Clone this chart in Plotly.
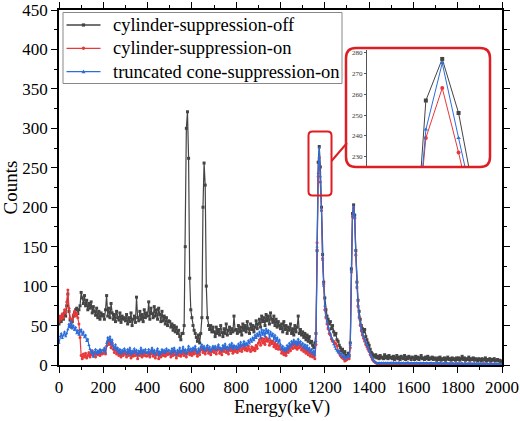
import plotly.graph_objects as go

# ---------------- data (5 keV bins, 0 ... 2000 keV) ----------------
energy = list(range(0, 2001, 5))

counts_off = (
    [52,58,55,62,58,66,62,75,90,68,57,48,55,62,66,70,72,65,70,75] +
    [92,85,78,88,75,82,70,78,72,80,66,74,68,63,72,60,68,58,66,62] +
    [64,58,70,88,62,72,60,78,66,58,64,55,68,60,57,66,54,62,58,60] +
    [56,64,52,60,55,66,50,58,62,54,86,60,56,68,58,64,55,70,60,66] +
    [62,80,58,72,65,60,74,62,70,58,72,64,55,68,56,62,52,60,50,56] +
    [55,48,52,44,50,42,48,40,44,36,32,40,40,50,150,300,321,262,110,70] +
    [60,50,44,40,35,30,38,28,40,60,200,256,228,100,60,50,45,50,42,48] +
    [42,36,48,40,45,38,50,41,36,46,40,52,38,44,48,40,46,42,62,44] +
    [45,40,50,42,48,38,52,44,50,42,55,46,40,52,45,50,42,48,56,46] +
    [52,58,48,62,55,60,50,64,56,62,52,66,58,54,62,50,58,48,55,50] +
    [46,52,42,55,45,50,40,48,44,52,40,46,38,50,42,48,62,40,45,38] +
    [42,35,40,32,38,30,36,28,30,25,22,28,40,145,257,277,251,200,140,105] +
    [85,70,62,58,52,55,46,50,42,38,40,32,30,25,22,18,20,15,17,12] +
    [12,15,12,28,122,192,203,190,145,105,82,68,58,50,46,42,45,36,32,28] +
    [25,20,16,14,12,10,13,9,11,8,12,9,10,8,13,9,11,8,12,9] +
    [10,8,11,7,9,12,8,10,7,11,9,8,12,7,10,8,11,9,7,10] +
    [9,7,11,8,10,7,9,12,8,9,7,10,8,11,7,9,8,10,7,9] +
    [8,6,9,7,10,6,8,7,9,6,8,10,7,8,6,9,7,8,6,9] +
    [7,9,6,8,11,7,9,6,8,7,10,6,8,7,9,6,8,7,5,8] +
    [7,5,8,6,7,9,5,7,6,8,5,7,6,8,5,6,7,5,6,4] +
    [5]
)

counts_cyl_on = (
    [55,62,58,65,60,70,66,80,95,72,60,50,58,64,68,62,66,60,52,35] +
    [12,8,14,10,15,9,12,16,10,13,18,12,16,10,15,13,17,12,16,14] +
    [15,18,14,24,30,26,33,22,28,20,16,22,14,18,12,16,10,15,12,17] +
    [14,10,16,12,18,9,14,11,17,12,15,8,14,12,18,10,15,12,16,11] +
    [12,16,10,14,18,11,15,9,13,17,8,14,10,16,12,15,11,17,13,15] +
    [14,10,16,12,18,13,9,15,12,17,11,14,18,12,16,10,15,19,13,16] +
    [12,18,14,20,15,11,17,13,19,22,16,20,14,18,21,15,19,13,17,20] +
    [16,20,14,19,22,15,18,13,21,17,23,16,19,14,22,18,24,15,20,17] +
    [20,16,22,18,24,17,21,25,19,22,18,24,20,17,23,19,22,18,25,21] +
    [28,32,25,34,28,33,26,35,30,33,25,31,27,30,23,28,21,26,20,24] +
    [20,15,19,13,18,12,20,16,23,18,25,21,27,22,26,20,28,22,25,19] +
    [22,17,21,15,19,13,17,11,15,10,13,8,26,155,239,263,232,196,135,102] +
    [70,60,52,46,40,38,33,30,30,28,27,24,18,15,12,10,9,8,5,6] +
    [7,10,8,22,118,188,199,186,139,98,74,60,50,43,38,34,30,26,23,20] +
    [17,13,10,7,5,4,3,2,2,2,2,2,1,2,2,2,1,2,2,1] +
    [2,2,3,1,2,2,2,3,1,2,2,2,1,2,2,3,1,2,2,2] +
    [2,2,1,2,2,2,1,2,2,2,1,2,2,1,2,2,2,1,2,2] +
    [1,2,2,1,2,2,1,2,1,2,2,1,1,2,1,2,1,1,2,1] +
    [1,2,1,1,2,1,1,2,1,1,1,2,1,1,1,2,1,1,1,1] +
    [1,1,1,2,1,1,1,1,1,1,2,1,1,1,1,1,0,1,1,1] +
    [1]
)

counts_cone_on = (
    [28,36,40,34,38,42,36,40,45,52,48,55,46,50,44,48,40,44,38,42] +
    [45,38,42,35,38,30,33,25,20,15,18,10,16,20,14,18,15,20,16,19] +
    [18,22,16,28,35,30,36,26,32,24,20,26,18,22,15,20,14,19,16,21] +
    [18,14,20,15,22,13,18,15,21,16,19,12,18,15,22,14,19,16,20,15] +
    [16,20,14,18,22,15,19,13,18,21,12,17,14,20,16,19,15,21,17,19] +
    [18,14,21,16,22,17,13,19,16,22,15,18,23,16,20,14,19,24,17,21] +
    [17,22,19,24,18,15,21,17,23,26,20,24,18,22,25,19,23,17,21,24] +
    [20,24,19,23,26,20,22,18,25,21,27,20,23,19,26,22,28,20,25,22] +
    [24,20,27,22,29,23,26,30,24,28,25,31,27,33,29,35,31,38,34,40] +
    [36,42,34,45,38,44,36,46,40,44,34,42,36,40,32,38,30,35,28,32] +
    [26,20,24,18,22,17,25,20,28,23,30,26,32,27,30,25,33,27,30,24] +
    [28,22,26,20,25,18,22,16,20,14,18,12,30,150,243,275,239,196,133,100] +
    [75,62,55,48,44,40,35,32,26,23,20,18,16,18,13,15,10,12,8,10] +
    [9,12,10,25,120,190,201,188,141,100,76,62,52,45,40,36,32,28,25,22] +
    [18,14,11,8,6,4,3,3,2,3,2,3,2,3,2,3,2,3,2,3] +
    [3,2,3,2,3,3,2,3,2,3,2,3,2,3,2,3,2,2,3,2] +
    [2,3,2,3,2,2,3,2,2,3,2,2,3,2,2,2,3,2,2,2] +
    [2,2,3,2,2,2,1,2,2,3,2,2,2,1,2,2,2,1,2,2] +
    [2,1,2,2,2,1,2,2,1,2,2,1,2,2,1,2,1,2,1,2] +
    [1,2,1,1,2,1,2,1,1,2,1,1,1,2,1,1,1,1,1,1] +
    [1]
)

series_names = ["cylinder-suppression-off", "cylinder-suppression-on",
                "truncated cone-suppression-on"]
x_ticks = [0, 200, 400, 600, 800, 1000, 1200, 1400, 1600, 1800, 2000]
y_ticks = [0, 50, 100, 150, 200, 250, 300, 350, 400, 450]
inset_ticks = [230, 240, 250, 260, 270, 280]

# ---------------- styling ----------------
FONT = "Liberation Serif"
C_OFF, C_RED, C_BLUE = "#444444", "#e8383a", "#2a6ddb"
RECT_RED = "#dd1f24"
colors = [C_OFF, C_RED, C_BLUE]
symbols = ["square", "circle", "triangle-up"]
data = [counts_off, counts_cyl_on, counts_cone_on]

# plot-area geometry in pixels
L, R, T, B = 59, 502, 10, 365
W, H = R - L, B - T


def xp(px):
    return (px - L) / W


def yp(py):
    return (B - py) / H


def rounded_rect(x0, y0, x1, y1, r):
    rx, ry = r / W, r / H
    a0, a1 = xp(x0), xp(x1)
    b0, b1 = yp(y1), yp(y0)   # b0 bottom, b1 top
    return (f"M{a0+rx},{b1} L{a1-rx},{b1} Q{a1},{b1} {a1},{b1-ry} "
            f"L{a1},{b0+ry} Q{a1},{b0} {a1-rx},{b0} L{a0+rx},{b0} "
            f"Q{a0},{b0} {a0},{b0+ry} L{a0},{b1-ry} Q{a0},{b1} {a0+rx},{b1} Z")


fig = go.Figure()
for name, ys, c, s in zip(series_names, data, colors, symbols):
    fig.add_trace(go.Scatter(
        x=energy, y=ys, name=name, mode="lines+markers", showlegend=False,
        line=dict(color=c, width=1.2),
        marker=dict(color=c, size=3, symbol=s),
        xaxis="x", yaxis="y"))

for name, ys, c, s in zip(series_names, data, colors, symbols):
    fig.add_trace(go.Scatter(
        x=energy, y=ys, name=name, mode="lines+markers", showlegend=False,
        line=dict(color=c, width=1),
        marker=dict(color=c, size=4, symbol=s),
        xaxis="x2", yaxis="y2"))

axis_common = dict(
    showline=True, linecolor="black", linewidth=1.5, mirror="allticks",
    ticks="outside", ticklen=6, tickwidth=1.3, tickcolor="black",
    showgrid=False, zeroline=False, automargin=False,
    tickfont=dict(family=FONT, size=17, color="black"),
)

fig.update_layout(
    template="none",
    width=520, height=421,
    margin=dict(l=L, r=520 - R, t=T, b=421 - B, autoexpand=False),
    paper_bgcolor="white", plot_bgcolor="white",
    font=dict(family=FONT, color="black"),
    xaxis=dict(range=[0, 2000], tickvals=x_ticks, domain=[0, 1],
               minor=dict(dtick=100, tick0=0, ticks="outside", ticklen=3.5,
                          tickwidth=1.2, tickcolor="black"),
               **axis_common),
    yaxis=dict(range=[0, 450], tickvals=y_ticks, domain=[0, 1],
               minor=dict(dtick=25, tick0=0, ticks="outside", ticklen=3.5,
                          tickwidth=1.2, tickcolor="black"),
               **axis_common),
    xaxis2=dict(domain=[xp(367), xp(488)], range=[1152, 1189],
                anchor="y2", visible=False, automargin=False),
    yaxis2=dict(domain=[yp(166), yp(50)], range=[225.5, 281.3],
                anchor="x2", showline=True, linecolor="#555", linewidth=1,
                ticks="outside", ticklen=2, tickwidth=0.8, tickcolor="#555",
                tickvals=inset_ticks, showgrid=False, zeroline=False,
                automargin=False,
                tickfont=dict(family=FONT, size=7, color="#333")),
    showlegend=False,
)

# ---------------- legend (drawn box, samples and texts) ----------------
fig.add_shape(type="rect", xref="paper", yref="paper",
              x0=xp(63), x1=xp(342), y0=yp(83.5), y1=yp(12.5),
              line=dict(color="#888", width=1), fillcolor="white")
row_y = [25, 48.3, 71.6]
for name, c, s, py in zip(series_names, colors, symbols, row_y):
    fig.add_shape(type="line", xref="paper", yref="paper",
                  x0=xp(66.5), x1=xp(100.5), y0=yp(py), y1=yp(py),
                  line=dict(color=c, width=1.3))
    cx = 83.5
    if s == "square":
        fig.add_shape(type="rect", xref="paper", yref="paper",
                      x0=xp(cx - 1.6), x1=xp(cx + 1.6),
                      y0=yp(py + 1.6), y1=yp(py - 1.6),
                      line=dict(width=0), fillcolor=c)
    elif s == "circle":
        fig.add_shape(type="circle", xref="paper", yref="paper",
                      x0=xp(cx - 1.7), x1=xp(cx + 1.7),
                      y0=yp(py + 1.7), y1=yp(py - 1.7),
                      line=dict(width=0), fillcolor=c)
    else:
        fig.add_shape(type="path", xref="paper", yref="paper",
                      path=(f"M{xp(cx-2)},{yp(py+1.6)} L{xp(cx+2)},{yp(py+1.6)} "
                            f"L{xp(cx)},{yp(py-2)} Z"),
                      line=dict(width=0), fillcolor=c)
    fig.add_annotation(text=name, xref="paper", yref="paper",
                       x=xp(110.5), y=yp(py), showarrow=False,
                       xanchor="left", yanchor="middle",
                       font=dict(family=FONT, size=18.5, color="black"))

# ---------------- axis titles ----------------
fig.add_annotation(text="Counts", xref="paper", yref="paper",
                   x=xp(10), y=0.5, textangle=-90, showarrow=False,
                   xanchor="center", yanchor="middle",
                   font=dict(family=FONT, size=19, color="black"))
fig.add_annotation(text="Energy(keV)", xref="paper", yref="paper",
                   x=xp(282), y=yp(407), showarrow=False,
                   xanchor="center", yanchor="middle",
                   font=dict(family=FONT, size=18.5, color="black"))

# ---------------- zoom marker and inset frame ----------------
fig.add_shape(type="path", xref="paper", yref="paper",
              path=rounded_rect(308.5, 131.5, 331.5, 195.5, 4),
              line=dict(color=RECT_RED, width=2))
fig.add_shape(type="path", xref="paper", yref="paper",
              path=rounded_rect(346, 48, 490, 167, 10),
              line=dict(color=RECT_RED, width=2.5))
fig.add_shape(type="line", xref="paper", yref="paper",
              x0=xp(331.5), y0=yp(161), x1=xp(347), y1=yp(143),
              line=dict(color=RECT_RED, width=2))

fig.write_html("out.html")
